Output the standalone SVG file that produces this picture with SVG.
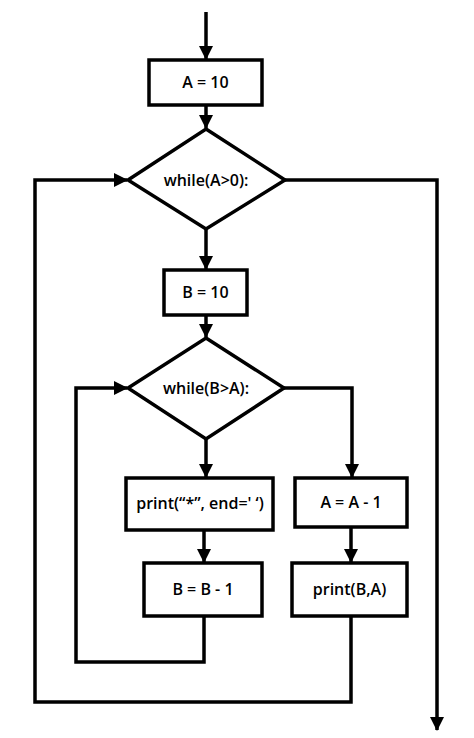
<svg xmlns="http://www.w3.org/2000/svg" width="474" height="738" viewBox="0 0 474 738">
<style>
.n{fill:#fff;stroke:#000;stroke-width:3.5;stroke-linejoin:miter}
.c{fill:none;stroke:#000;stroke-width:3.5;stroke-linejoin:miter}
text{font-family:"Open Sans","Liberation Sans",sans-serif;font-size:16px;font-weight:600;fill:#000;text-anchor:middle}
</style>
<defs>
<marker id="ah" markerUnits="userSpaceOnUse" markerWidth="14" markerHeight="14" viewBox="0 0 14 14" refX="13" refY="7" orient="auto">
<path d="M0,0 L14,7 L0,14 Z" fill="#000"/>
</marker>
</defs>
<rect width="474" height="738" fill="#fff"/>
<g id="connectors">
<path class="c" d="M206,12 V59" marker-end="url(#ah)"/>
<path class="c" d="M206,105 V128" marker-end="url(#ah)"/>
<path class="c" d="M206,229 V269" marker-end="url(#ah)"/>
<path class="c" d="M206,315 V337" marker-end="url(#ah)"/>
<path class="c" d="M206,439 V477" marker-end="url(#ah)"/>
<path class="c" d="M284,388 H352 V477" marker-end="url(#ah)"/>
<path class="c" d="M204,530 V562" marker-end="url(#ah)"/>
<path class="c" d="M351,527 V562" marker-end="url(#ah)"/>
<path class="c" d="M204,616 V662 H76 V388 H127" marker-end="url(#ah)"/>
<path class="c" d="M351,616 V702 H35 V180 H127" marker-end="url(#ah)"/>
<path class="c" d="M285,180 H437 V730" marker-end="url(#ah)"/>
</g>
<g id="a10">
<rect class="n" x="149" y="60" width="113" height="45"/>
<text x="205.5" y="88">A = 10</text>
</g>
<g id="whileA">
<polygon class="n" points="206,129 285,180 206,229 128,180"/>
<text x="206" y="186">while(A&gt;0):</text>
</g>
<g id="b10">
<rect class="n" x="164" y="270" width="83" height="45"/>
<text x="205.5" y="298">B = 10</text>
</g>
<g id="whileB">
<polygon class="n" points="206,338 284,388 206,439 128,388"/>
<text x="206" y="394">while(B&gt;A):</text>
</g>
<g id="printStar">
<rect class="n" x="126" y="478" width="147" height="52"/>
<text x="200" y="509">print(“*”, end=' ‘)</text>
</g>
<g id="aMinus">
<rect class="n" x="295" y="478" width="112" height="49"/>
<text x="351" y="508">A = A - 1</text>
</g>
<g id="bMinus">
<rect class="n" x="144" y="563" width="118" height="53"/>
<text x="203" y="595">B = B - 1</text>
</g>
<g id="printBA">
<rect class="n" x="292" y="563" width="115" height="53"/>
<text x="349.5" y="595">print(B,A)</text>
</g>
</svg>
